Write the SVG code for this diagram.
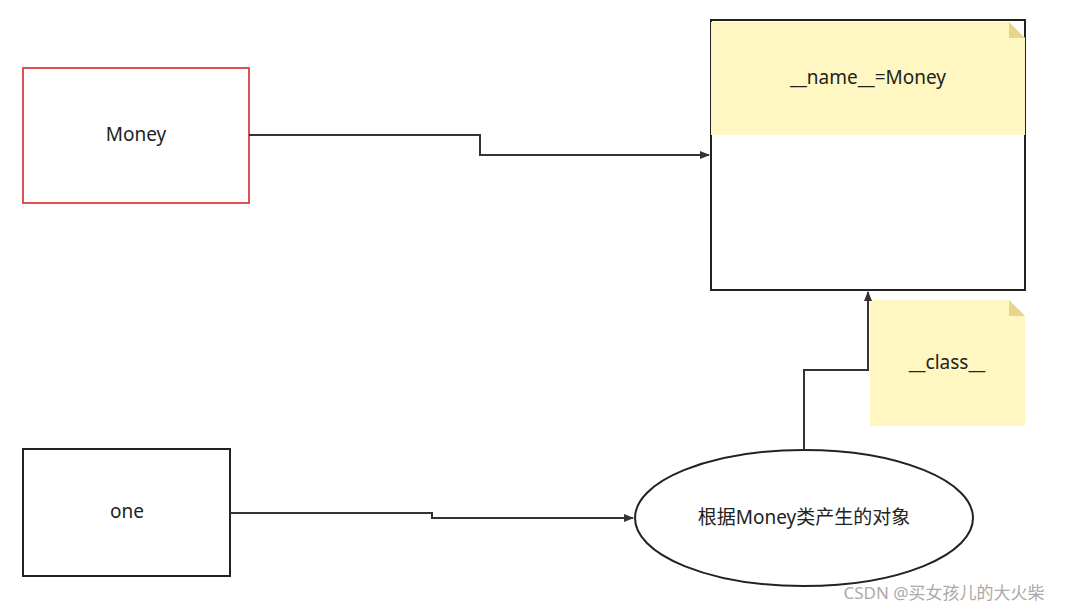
<svg xmlns="http://www.w3.org/2000/svg" width="1075" height="613" viewBox="0 0 1075 613">
<style>
text{font-family:"Noto Sans","Noto Sans CJK SC",sans-serif;font-size:19px;fill:#222;text-anchor:middle;dominant-baseline:middle}
.b{fill:#fff;stroke:#222;stroke-width:2}
.note{fill:#fff7c1}
.fold{fill:#e8d48a}
.c{fill:none;stroke:#333;stroke-width:2}
</style>
<defs><marker id="a" markerWidth="10" markerHeight="10" refX="9" refY="5" orient="auto" markerUnits="userSpaceOnUse"><path d="M0,1 L10,5 L0,9 Z" fill="#333"/></marker></defs>
<rect width="1075" height="613" fill="#fff"/>
<g id="money"><rect x="23" y="68" width="226" height="135" fill="#fff" stroke="#e05050" stroke-width="2"/><text x="136" y="136">Money</text></g>
<g id="classbox"><rect class="b" x="711" y="20" width="314" height="270"/>
<path class="note" d="M711,22 H1009 L1025,38 V135 H711 Z"/><path class="fold" d="M1009,22 V38 H1025 Z"/>
<text x="868" y="79">__name__=Money</text></g>
<g id="classnote"><path class="note" d="M870,300 H1009 L1025,316 V426 H870 Z"/><path class="fold" d="M1009,300 V316 H1025 Z"/><text x="947" y="364">__class__</text></g>
<g id="one"><rect class="b" x="23" y="449" width="207" height="127"/><text x="127" y="513">one</text></g>
<g id="obj"><ellipse class="b" cx="804" cy="518" rx="169" ry="68"/><text x="804" y="519">根据Money类产生的对象</text></g>
<g id="connectors">
<path class="c" d="M249,135 H480 V155 H709" marker-end="url(#a)"/>
<path class="c" d="M230,513 H432 V518 H633" marker-end="url(#a)"/>
<path class="c" d="M804,450 V370 H868 V292" marker-end="url(#a)"/>
</g>
<text x="944" y="594" style="font-size:17px;fill:#aaa">CSDN @买女孩儿的大火柴</text>
</svg>
